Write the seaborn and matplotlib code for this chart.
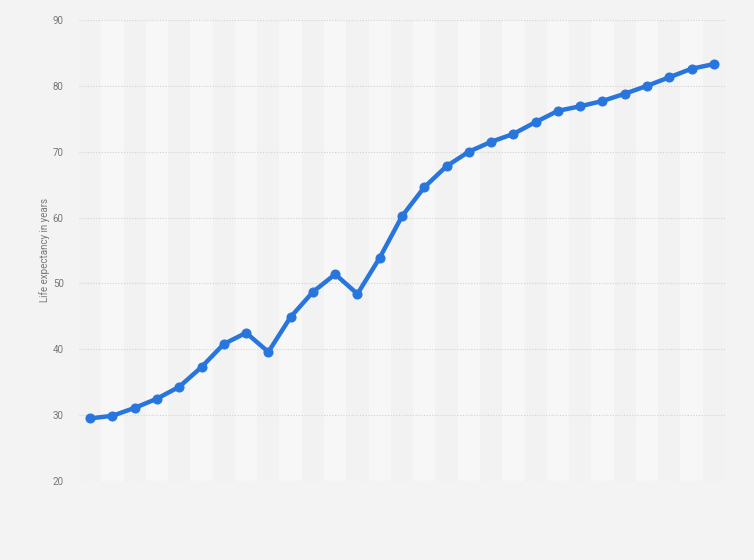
import numpy as np
import pandas as pd
import seaborn as sns
import matplotlib.pyplot as plt

# Life expectancy values (x labels are not shown)
points = list(range(1, 30))
life_expectancy = [29.5, 29.9, 31.1, 32.5, 34.3, 37.3, 40.8, 42.5, 39.6, 44.9,
                   48.7, 51.4, 48.4, 53.9, 60.2, 64.6, 67.8, 70.0, 71.5, 72.7,
                   74.5, 76.2, 76.9, 77.7, 78.8, 80.0, 81.3, 82.6, 83.3]
y_ticks = [20, 30, 40, 50, 60, 70, 80, 90]

df = pd.DataFrame({"point": points, "life": life_expectancy})

sns.set_style("white")
plt.rcParams['font.family'] = ['Roboto', 'DejaVu Sans']

fig = plt.figure(figsize=(7.54, 5.6), dpi=100, facecolor="#f3f3f3")
ax = fig.add_axes([0.1048, 0.1411, 0.8567, 0.8232])
ax.set_facecolor("#f2f2f2")

# alternating column bands, lighter behind every second point
for p in points:
    if p % 2 == 0:
        ax.axvspan(p - 0.5, p + 0.5, color="#f7f7f7", lw=0, zorder=0)

sns.lineplot(data=df, x="point", y="life", ax=ax, color="#2876dd",
             linewidth=3.2, marker="o", markersize=6.5,
             markeredgecolor="#2876dd", zorder=3)

ax.set_xlim(0.5, 29.5)
ax.set_ylim(20, 90)
ax.set_yticks(y_ticks)
ax.set_xticks([])
ax.grid(axis="y", color="#d2d2d2", linestyle=(0, (1, 1.5)), linewidth=0.8)
ax.set_axisbelow(True)
for s in ax.spines.values():
    s.set_visible(False)
ax.tick_params(axis="y", length=0, pad=11, labelsize=7, labelcolor="#777777")
ax.set_xlabel("")
ax.set_ylabel("Life expectancy in years", fontsize=7, color="#777777", labelpad=2)

fig.savefig("out.png", dpi=100, facecolor=fig.get_facecolor())
